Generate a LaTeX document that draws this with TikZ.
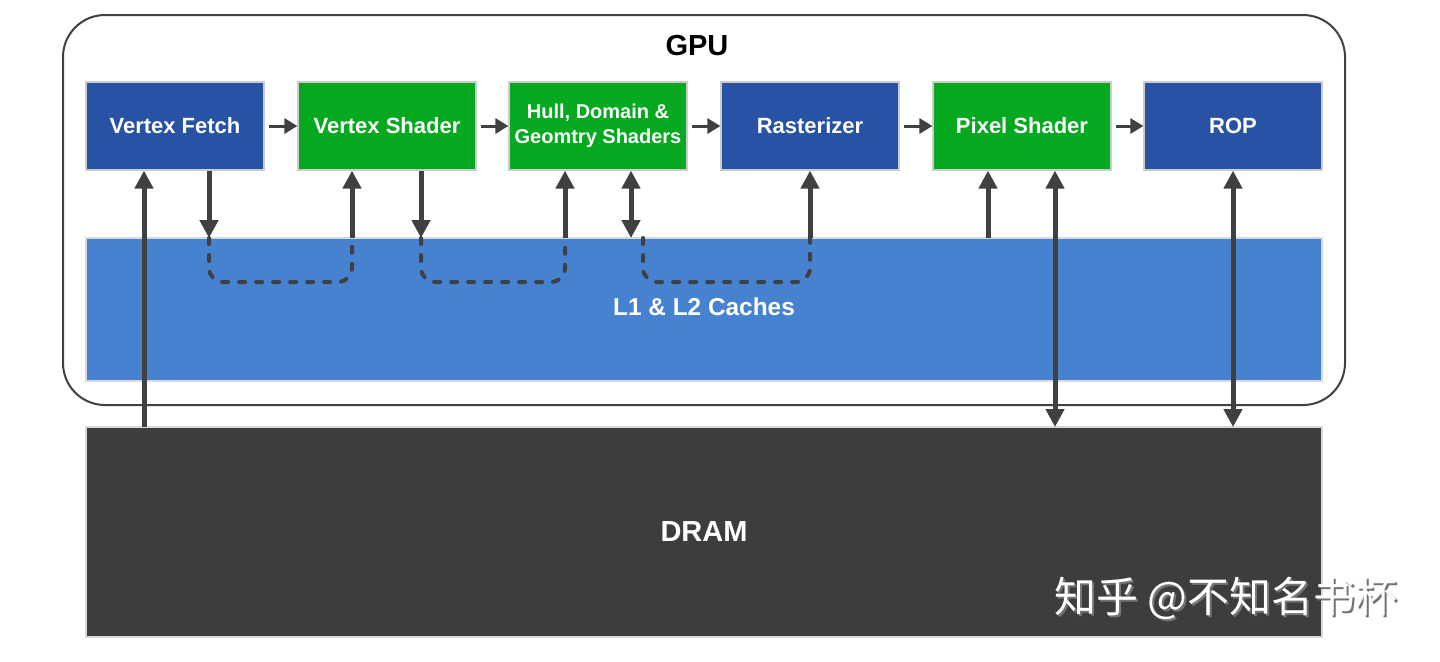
\documentclass[tikz,border=0pt]{standalone}
\usepackage{fontspec}
\setmainfont{Liberation Sans}
\newfontfamily\cjk{Noto Sans CJK SC}
\usetikzlibrary{arrows.meta}

\definecolor{stageblue}{RGB}{40,82,163}
\definecolor{stagegreen}{RGB}{5,169,31}
\definecolor{cacheblue}{RGB}{70,130,208}
\definecolor{dramgrey}{RGB}{61,61,61}
\definecolor{wiregrey}{RGB}{64,64,64}

\tikzset{
    stage/.style={draw=black!20, line width=0.6pt, minimum width=89pt, minimum height=44pt,
        inner sep=0pt, text=white, align=center, font=\bfseries\fontsize{11}{13}\selectfont},
    hflow/.style={-{Triangle[width=7.5pt, length=6.5pt]}, line width=1.5pt, draw=wiregrey},
    vflow/.style={-{Triangle[width=9pt, length=9pt]}, line width=2.5pt, draw=wiregrey},
    biflow/.style={{Triangle[width=9pt, length=9pt]}-{Triangle[width=9pt, length=9pt]}, line width=2.5pt, draw=wiregrey},
    spill/.style={draw=wiregrey, line width=2pt, line cap=round, dash pattern=on 3pt off 5.5pt, rounded corners=7pt}
}

\begin{document}
\begin{tikzpicture}[x=0.5pt, y=-0.5pt]
    \useasboundingbox (0,0) rectangle (1440,661);
    % GPU frame
    \node[draw=wiregrey, line width=1pt, rounded corners=21pt, minimum width=641pt, minimum height=195pt] (gpubox) at (704,210) {};
    \node[font=\bfseries\fontsize{14.5}{16}\selectfont] (gpu) at (697,46) {GPU};
    % memories
    \node[fill=cacheblue, draw=black!15, line width=0.6pt, minimum width=618pt, minimum height=71.5pt, inner sep=0pt] (cache) at (704,309.5) {};
    \node[text=white, font=\bfseries\fontsize{12.2}{14}\selectfont] (cachelab) at (704,307) {L1 \& L2 Caches};
    \node[fill=dramgrey, draw=black!15, line width=0.6pt, minimum width=618pt, minimum height=105pt, inner sep=0pt,
        text=white, font=\bfseries\fontsize{14.5}{16}\selectfont] (dram) at (704,532) {DRAM};
    % pipeline stages
    \node[stage, fill=stageblue] (vf) at (175,126) {Vertex Fetch};
    \node[stage, fill=stagegreen] (vs) at (387,126) {Vertex Shader};
    \node[stage, fill=stagegreen, font=\bfseries\fontsize{10}{12.5}\selectfont] (hds) at (598,126) {Hull, Domain \&\\Geomtry Shaders};
    \node[stage, fill=stageblue] (rast) at (810,126) {Rasterizer};
    \node[stage, fill=stagegreen] (ps) at (1022,126) {Pixel Shader};
    \node[stage, fill=stageblue] (rop) at (1233,126) {ROP};
    \foreach \a/\b in {vf/vs, vs/hds, hds/rast, rast/ps, ps/rop}
        \draw[hflow] ([xshift=2pt]\a.east) -- (\b.west);
    % points on the cache and DRAM edges
    \coordinate (c1) at (209,238);
    \coordinate (c2) at (352,238);
    \coordinate (c3) at (421,238);
    \coordinate (c4) at (565,238);
    \coordinate (c5) at (643,238);
    \coordinate (c6) at (810,238);
    \coordinate (hx) at (631,238);
    \coordinate (px) at (988,238);
    \coordinate (fx) at (144,427);
    \coordinate (pd) at (1055,427);
    \coordinate (rd) at (1233,427);
    % cache traffic
    \draw[vflow] (vf.south -| c1) -- (c1);
    \draw[spill] (c1) -- ++(0,44) -| (c2);
    \draw[vflow] (c2) -- (vs.south -| c2);
    \draw[vflow] (vs.south -| c3) -- (c3);
    \draw[spill] (c3) -- ++(0,44) -| (c4);
    \draw[vflow] (c4) -- (hds.south -| c4);
    \draw[biflow] (hds.south -| hx) -- (hx);
    \draw[spill] (c5) -- ++(0,44) -| (c6);
    \draw[vflow] (c6) -- (rast.south -| c6);
    \draw[vflow] (px) -- (ps.south -| px);
    % DRAM traffic
    \draw[vflow] (fx) -- (vf.south -| fx);
    \draw[biflow] (ps.south -| pd) -- (pd);
    \draw[biflow] (rop.south -| rd) -- (rd);
    % watermark
    \node[text=black!55, font=\cjk\fontsize{21}{24}\selectfont] at (1228,600) {知乎 @不知名书杯};
    \node[text=white, font=\cjk\fontsize{21}{24}\selectfont] (mark) at (1226,598) {知乎 @不知名书杯};
\end{tikzpicture}
\end{document}
